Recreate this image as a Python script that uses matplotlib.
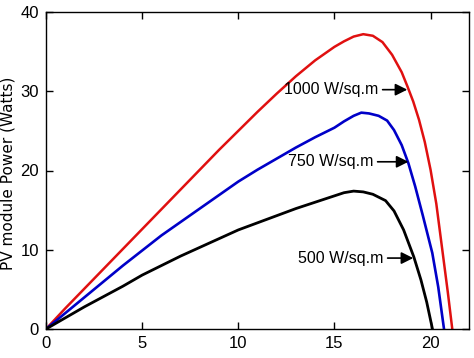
import matplotlib
matplotlib.use("Agg")
import matplotlib.pyplot as plt

# ---- data ----
v_1000 = [0, 1, 2, 3, 4, 5, 6, 7, 8, 9, 10, 11, 12, 13, 14, 15, 15.5, 16, 16.5, 17,
          17.5, 18, 18.5, 18.8, 19.1, 19.4, 19.7, 20.0, 20.3, 20.6, 20.9, 21.13]
p_1000 = [0, 2.6, 5.1, 7.6, 10.1, 12.6, 15.1, 17.6, 20.1, 22.6, 25.0, 27.4, 29.7, 31.9,
          33.9, 35.6, 36.3, 36.9, 37.2, 37.0, 36.2, 34.6, 32.4, 30.6, 28.7, 26.4, 23.6,
          20.1, 15.8, 10.2, 4.6, 0]

v_750 = [0, 1, 2, 3, 4, 5, 6, 7, 8, 9, 10, 11, 12, 13, 14, 15, 15.5, 16, 16.4, 16.8,
         17.3, 17.74, 18.1, 18.5, 18.85, 19.2, 19.6, 20.09, 20.4, 20.7]
p_750 = [0, 2.0, 4.0, 6.0, 8.0, 9.9, 11.8, 13.5, 15.2, 16.9, 18.6, 20.1, 21.5, 22.9,
         24.2, 25.4, 26.2, 26.9, 27.3, 27.2, 26.9, 26.3, 25.1, 23.2, 20.9, 18.0, 14.3,
         9.6, 5.3, 0]

v_500 = [0, 1, 2, 3, 4, 5, 6, 7, 8, 9, 10, 11, 12, 13, 14, 15, 15.5, 16, 16.5, 17.0,
         17.66, 18.1, 18.6, 19.13, 19.5, 19.8, 20.1]
p_500 = [0, 1.4, 2.8, 4.1, 5.4, 6.8, 8.0, 9.2, 10.3, 11.4, 12.5, 13.4, 14.3, 15.2,
         16.0, 16.8, 17.2, 17.4, 17.3, 17.0, 16.2, 14.9, 12.5, 9.1, 6.2, 3.4, 0]

labels = ["1000 W/sq.m", "750 W/sq.m", "500 W/sq.m"]
label_tips = [(18.79, 30.2), (18.85, 21.1), (19.1, 8.95)]
label_text = [(17.29, 30.2), (17.03, 21.1), (17.55, 8.95)]

xticks = [0, 5, 10, 15, 20]
yticks = [0, 10, 20, 30, 40]
ylabel = "PV module Power (Watts)"

narrow = ["Liberation Sans", "DejaVu Sans"]

fig = plt.figure(figsize=(4.74, 3.58), dpi=100)
ax = fig.add_axes([46/474, 1-329/358, (469-46)/474, (329-12)/358])

ax.plot(v_1000, p_1000, color="#e01010", lw=1.8)
ax.plot(v_750, p_750, color="#0000c8", lw=1.9)
ax.plot(v_500, p_500, color="black", lw=2)

for lab, tip, txt in zip(labels, label_tips, label_text):
    ax.annotate(lab, xy=tip, xytext=txt, ha="right", va="center",
                fontsize=11.5, family=narrow,
                arrowprops=dict(arrowstyle="-|>", color="black", lw=1.2,
                                mutation_scale=18, shrinkA=1, shrinkB=0))

ax.set_xlim(0, 22)
ax.set_ylim(0, 40)
ax.set_xticks(xticks)
ax.set_yticks(yticks)
ax.tick_params(direction="in", length=5, width=1, top=True, right=True, pad=5)
for lab in ax.get_xticklabels() + ax.get_yticklabels():
    lab.set_family(narrow)
    lab.set_fontsize(12)
for s in ax.spines.values():
    s.set_linewidth(1)

ax.set_ylabel(ylabel, fontsize=11, family="DejaVu Sans")
ax.yaxis.set_label_coords((16 - 46) / 423, (329 - 173) / 317)

fig.savefig("out.png", dpi=100)
